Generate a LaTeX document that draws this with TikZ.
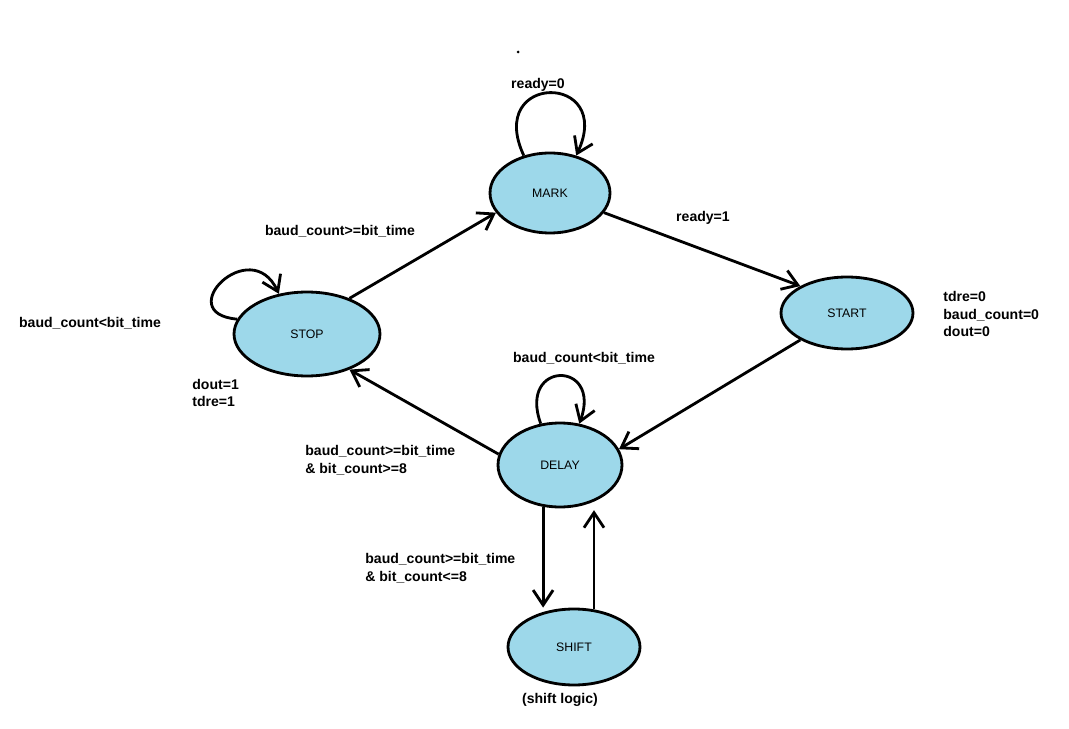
\documentclass[tikz,border=0pt]{standalone}
\usepackage{fontspec}
\setmainfont{Liberation Sans}
\usetikzlibrary{shapes.geometric,arrows.meta}
\definecolor{stateblue}{HTML}{9DD8EA}

\begin{document}
\begin{tikzpicture}[x=0.02cm,y=0.02cm,
    state/.style={ellipse,draw=black,line width=1.6pt,fill=stateblue,font=\fontsize{7}{8}\selectfont,inner sep=0pt},
    trans/.style={line width=1.6pt,-{Straight Barb[length=3mm,width=4mm]}},
    lbl/.style={font=\bfseries\fontsize{8}{10}\selectfont,align=left,inner sep=0pt}]
    \useasboundingbox (0,0) rectangle (1069,728);

    % states
    \node[state,minimum width=2.4cm,minimum height=1.6cm] (MARK) at (550,535) {MARK};
    \node[state,minimum width=2.64cm,minimum height=1.44cm] (START) at (847,415) {START};
    \node[state,minimum width=2.92cm,minimum height=1.68cm] (STOP) at (307,394) {STOP};
    \node[state,minimum width=2.48cm,minimum height=1.68cm] (DELAY) at (560,263) {DELAY};
    \node[state,minimum width=2.64cm,minimum height=1.52cm] (SHIFT) at (574,81) {SHIFT};

    % transitions
    \draw[trans] (STOP.40) -- (MARK.200);
    \draw[trans] (MARK.340) -- (START.150);
    \draw[trans] (START.210) -- (DELAY.15);
    \draw[trans] (DELAY.170) -- (STOP.320);
    \draw[trans] (DELAY.248) -- (DELAY.248 |- SHIFT.north);
    \draw[trans] (SHIFT.62) -- ([yshift=-3]DELAY.302 -| SHIFT.62);
    \draw[trans] (MARK.125) to[out=115,in=65,looseness=4.5] (MARK.55);
    \draw[trans] (STOP.168) to[out=175,in=115,looseness=3.5] (STOP.125);
    \draw[trans] (DELAY.115) to[out=110,in=70,looseness=4.5] (DELAY.65);

    % labels
    \node[lbl] (l1) at (538,85*-1+728) {ready=0};
    \node[lbl] (l2) at (703,510) {ready=1};
    \node[lbl] (l3) at (340,497) {baud\_count>=bit\_time};
    \node[lbl] (l4) at (90,405) {baud\_count<bit\_time};
    \node[lbl,anchor=west] (l5) at (192,335) {dout=1\\tdre=1};
    \node[lbl,anchor=west] (l6) at (943,414) {tdre=0\\baud\_count=0\\dout=0};
    \node[lbl] (l7) at (584,370) {baud\_count<bit\_time};
    \node[lbl,anchor=west] (l8) at (305,268) {baud\_count>=bit\_time\\\& bit\_count>=8};
    \node[lbl,anchor=west] (l9) at (365,160) {baud\_count>=bit\_time\\\& bit\_count<=8};
    \node[lbl] (l10) at (560,28) {(shift logic)};
    \fill (518,676) circle (1.5);
\end{tikzpicture}
\end{document}
